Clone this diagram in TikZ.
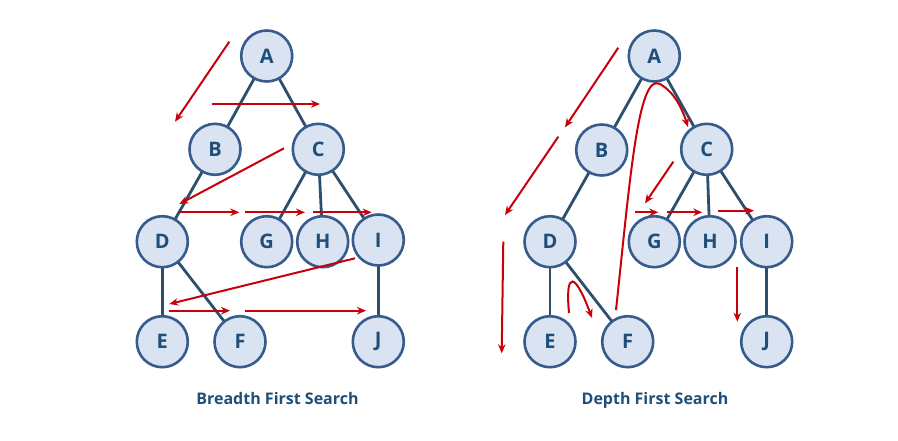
\documentclass[tikz,border=0pt]{standalone}
\usepackage{fontspec}
\setmainfont{Open Sans}
\usetikzlibrary{arrows.meta}
\definecolor{nodefill}{HTML}{DAE3F2}
\definecolor{nodeline}{HTML}{365B8C}
\definecolor{nodetext}{HTML}{1F4E79}
\definecolor{edgecol}{HTML}{2C4F6E}
\definecolor{trace}{HTML}{C8000A}
\tikzset{%
  vertex/.style={
    circle,
    draw=nodeline,
    fill=nodefill,
    line width=2.6pt,
    minimum size=51pt,
    inner sep=0pt,
    text=nodetext,
    font=\fontsize{20}{22}\selectfont\bfseries
  },
  edge/.style={
    draw=edgecol,
    line width=2.8pt
  },
  trace/.style={
    draw=trace,
    line width=2pt,
    -{Stealth[length=9pt,width=7.5pt]}
  },
  caption/.style={
    anchor=base,
    text=nodetext,
    font=\fontsize{16}{18}\selectfont\bfseries
  }
 }

\begin{document}
\begin{tikzpicture}[x=1pt, y=-1pt]
\useasboundingbox (0,0) rectangle (898,440);

% breadth first search tree
\foreach \n/\x/\y in {A/266.7/56, B/215/149.3, C/318.3/149.3,
    D/162.3/241.7, G/266.7/241.7, H/322.7/241.7, I/378.3/240,
    E/162.3/341.7, F/240/341.7, J/378.3/341.7}
  \coordinate (bfs-\n) at (\x,\y);

\foreach \a/\b in {A/B, A/C, B/D, C/G, C/H, C/I, D/E, D/F, I/J}
  \draw [edge] (bfs-\a) -- (bfs-\b);

\foreach \n in {A,B,C,D,E,F,G,I,J,H}
  \node [vertex] (b\n) at (bfs-\n) {\n};

\foreach \sx/\sy/\ex/\ey in {229.3/41.7/175/121.7, 211.7/104/320/104,
    284/148.3/179.3/204, 179.3/212.3/239.3/212.3, 245/212.3/305/212.3,
    312.7/212.3/371.7/212.3, 355/258.3/169.3/304,
    169.3/310.7/230/310.7, 245/310.7/366/310.7}
  \draw [trace] (\sx,\sy) -- (\ex,\ey);

% depth first search tree
\foreach \n/\x/\y in {A/654.3/56, B/601.7/150, C/706.7/149.3,
    D/550/241.7, G/654.3/241.7, H/710/241.7, I/766.7/241.7,
    E/550/341.7, F/627.7/341.7, J/766.7/341.7}
  \coordinate (dfs-\n) at (\x,\y);

\foreach \a/\b in {A/B, A/C, B/D, C/G, C/H, C/I, D/E, D/F, I/J}
  \draw [edge] (dfs-\a) -- (dfs-\b);

\foreach \n in {A,B,C,D,E,F,G,H,I,J}
  \node [vertex] (d\n) at (dfs-\n) {\n};

\foreach \sx/\sy/\ex/\ey in {618.3/47.7/565/127.3, 558.3/136.7/505/215,
    503.3/241.7/501.7/353.3, 673.3/161.7/645/203.3,
    635/212.3/658.3/212.3, 666.7/212.3/702.3/212.3,
    718.3/210.7/754/210.7, 737.3/266.7/737.3/321.7}
  \draw [trace] (\sx,\sy) -- (\ex,\ey);

\draw [trace] (569,313) .. controls (565,270) and (575,272) .. (592,318);
\draw [trace] (616,310) .. controls (630,180) and (638,72) .. (660,84)
  .. controls (674,92) and (682,108) .. (688,127);

\node [caption] (bfs-title) at (277.5,404) {Breadth First Search};
\node [caption] (dfs-title) at (655,404) {Depth First Search};

\end{tikzpicture}
\end{document}
